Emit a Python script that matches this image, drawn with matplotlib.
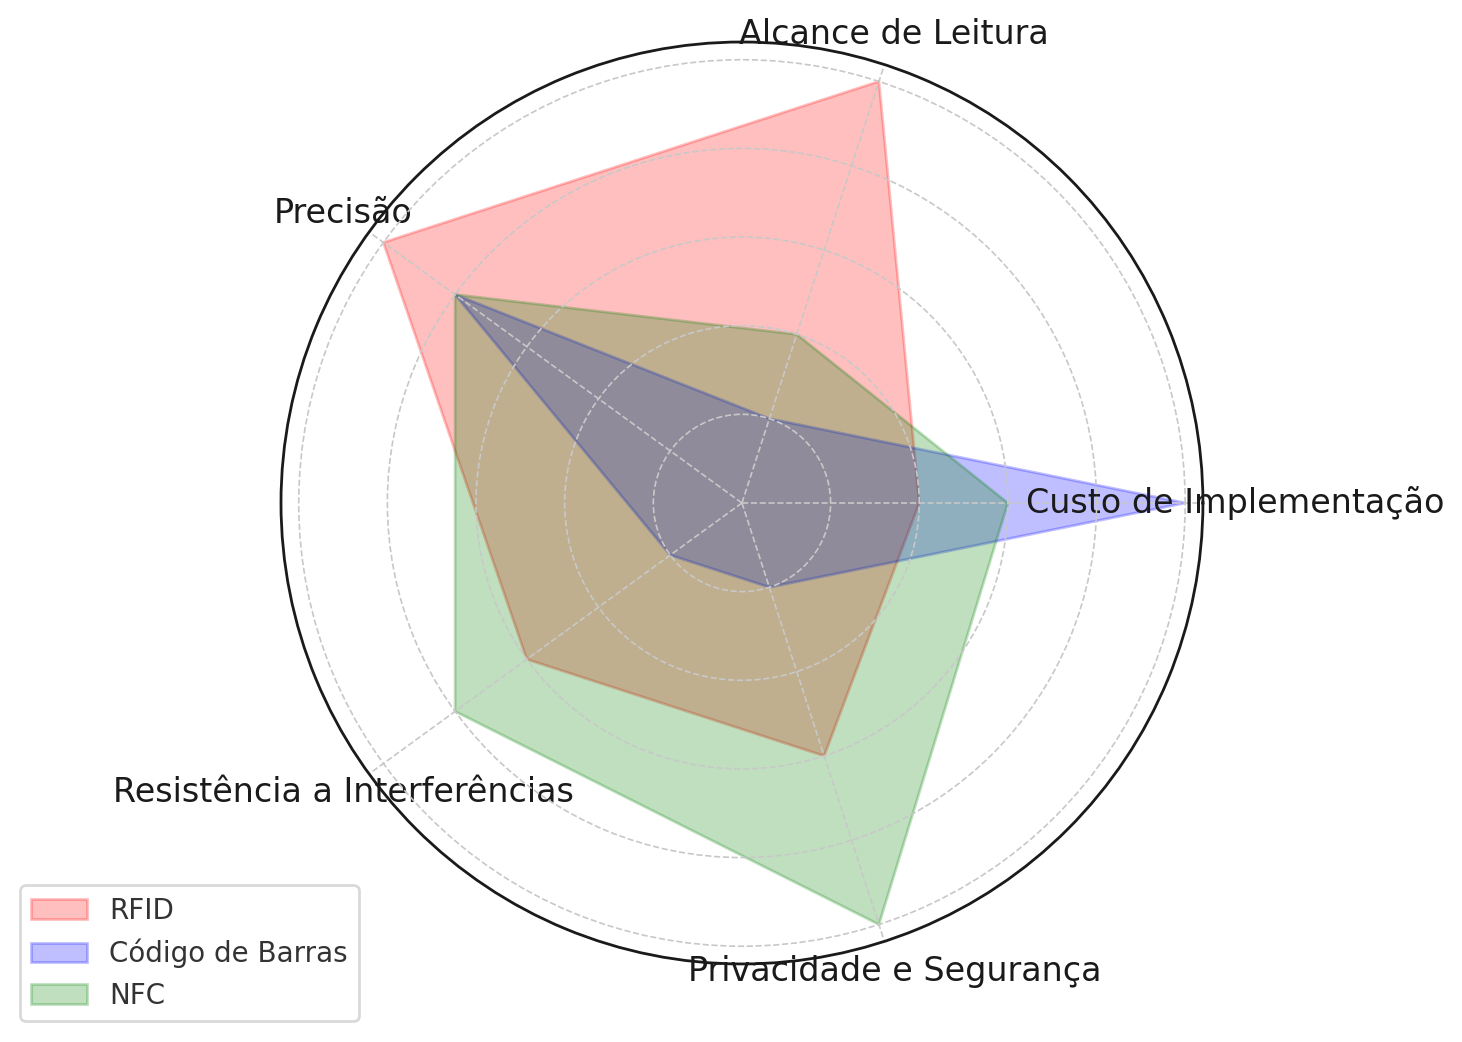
import numpy as np
import matplotlib
matplotlib.use("Agg")
import matplotlib.pyplot as plt

categories = ["Custo de Implementação", "Alcance de Leitura", "Precisão",
              "Resistência a Interferências", "Privacidade e Segurança"]
rfid = [2, 5, 5, 3, 3]
barras = [5, 1, 4, 1, 1]
nfc = [3, 2, 4, 4, 5]

series = [("RFID", rfid, "red"),
          ("Código de Barras", barras, "blue"),
          ("NFC", nfc, "green")]


def main():
    n = len(categories)
    angles = np.linspace(0, 2 * np.pi, n, endpoint=False).tolist()
    angles += angles[:1]

    fig = plt.figure(figsize=(7.31, 5.21), dpi=200)
    ax = fig.add_axes([0.1922, 0.0749, 0.6306, 0.8848], polar=True)

    for name, vals, color in series:
        v = vals + vals[:1]
        ax.fill(angles, v, color=color, alpha=0.25, linewidth=1, label=name)

    ax.set_xticks(angles[:-1])
    ax.set_xticklabels(categories, fontsize=12, color="#1a1a1a")
    ax.set_yticks([1, 2, 3, 4, 5])
    ax.set_yticklabels([])
    ax.set_ylim(0, 5.2)
    ax.grid(True, linestyle="--", color="#c8c8c8", linewidth=0.6)
    ax.spines["polar"].set_color("#1a1a1a")
    ax.spines["polar"].set_linewidth(1.0)
    ax.tick_params(axis="x", pad=1)

    leg = fig.legend(loc="lower left", bbox_to_anchor=(0.0137, 0.0202),
                     borderaxespad=0, fontsize=10, labelcolor="#333333")
    leg.get_frame().set_edgecolor("#d0d0d0")

    fig.savefig("out.png", dpi=200)


if __name__ == "__main__":
    main()
